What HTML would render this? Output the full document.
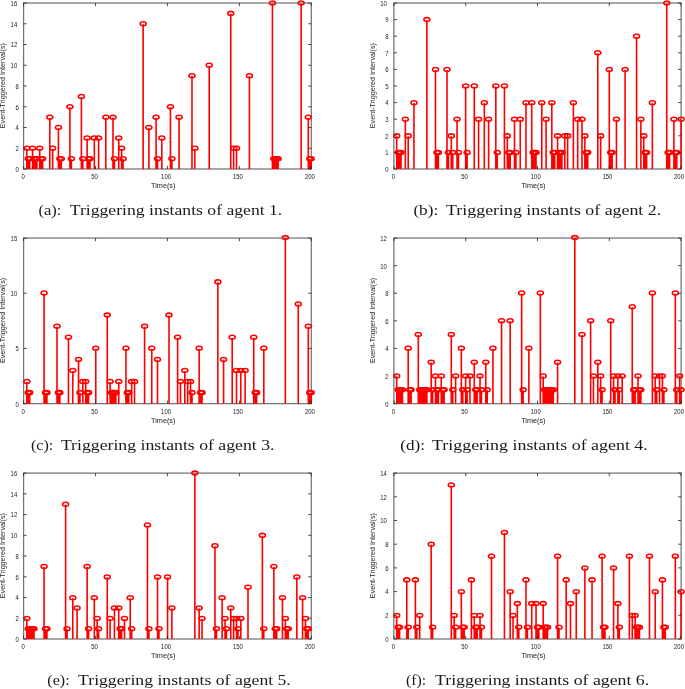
<!DOCTYPE html>
<html><head><meta charset="utf-8"><title>Triggering instants</title><style>html,body{margin:0;padding:0;background:#fff}svg{display:block}</style></head><body>
<svg width="685" height="689" viewBox="0 0 685 689">
<rect width="685" height="689" fill="#fff"/>
<g><rect x="23.60" y="3.00" width="287.70" height="166.00" fill="none" stroke="#747474" stroke-width="1.25"/><path d="M26.82 169.00V148.79M28.26 169.00V159.17M29.69 169.00V159.17M32.57 169.00V148.79M34.00 169.00V159.17M35.44 169.00V159.17M36.88 169.00V159.17M39.75 169.00V148.79M41.18 169.00V159.17M42.62 169.00V159.17M49.80 169.00V117.64M52.67 169.00V148.79M58.42 169.00V128.02M59.86 169.00V159.17M61.29 169.00V159.17M69.91 169.00V107.26M71.34 169.00V159.17M81.40 169.00V96.88M82.83 169.00V159.17M87.14 169.00V138.41M88.58 169.00V159.17M90.02 169.00V159.17M94.32 169.00V138.41M98.63 169.00V138.41M105.81 169.00V117.64M112.99 169.00V117.64M114.43 169.00V159.17M118.74 169.00V138.41M121.61 169.00V148.79M123.05 169.00V159.17M143.15 169.00V24.21M148.90 169.00V128.02M156.08 169.00V117.64M157.52 169.00V159.17M161.83 169.00V138.41M170.44 169.00V107.26M171.88 169.00V159.17M179.06 169.00V117.64M191.99 169.00V76.12M194.86 169.00V148.79M209.22 169.00V65.74M230.76 169.00V13.83M233.64 169.00V148.79M236.51 169.00V148.79M249.43 169.00V76.12M272.41 169.00V3.45M273.85 169.00V159.17M275.28 169.00V159.17M276.72 169.00V159.17M278.16 169.00V159.17M301.14 169.00V3.45M308.32 169.00V117.64M309.75 169.00V159.17M311.19 169.00V159.17" stroke="#f00" stroke-width="1.6" fill="none"/><g stroke="#f00" stroke-width="1.55" fill="none"><ellipse cx="26.82" cy="148.34" rx="3.0" ry="2.0"/><ellipse cx="28.26" cy="158.72" rx="3.0" ry="2.0"/><ellipse cx="29.69" cy="158.72" rx="3.0" ry="2.0"/><ellipse cx="32.57" cy="148.34" rx="3.0" ry="2.0"/><ellipse cx="34.00" cy="158.72" rx="3.0" ry="2.0"/><ellipse cx="35.44" cy="158.72" rx="3.0" ry="2.0"/><ellipse cx="36.88" cy="158.72" rx="3.0" ry="2.0"/><ellipse cx="39.75" cy="148.34" rx="3.0" ry="2.0"/><ellipse cx="41.18" cy="158.72" rx="3.0" ry="2.0"/><ellipse cx="42.62" cy="158.72" rx="3.0" ry="2.0"/><ellipse cx="49.80" cy="117.19" rx="3.0" ry="2.0"/><ellipse cx="52.67" cy="148.34" rx="3.0" ry="2.0"/><ellipse cx="58.42" cy="127.57" rx="3.0" ry="2.0"/><ellipse cx="59.86" cy="158.72" rx="3.0" ry="2.0"/><ellipse cx="61.29" cy="158.72" rx="3.0" ry="2.0"/><ellipse cx="69.91" cy="106.81" rx="3.0" ry="2.0"/><ellipse cx="71.34" cy="158.72" rx="3.0" ry="2.0"/><ellipse cx="81.40" cy="96.43" rx="3.0" ry="2.0"/><ellipse cx="82.83" cy="158.72" rx="3.0" ry="2.0"/><ellipse cx="87.14" cy="137.96" rx="3.0" ry="2.0"/><ellipse cx="88.58" cy="158.72" rx="3.0" ry="2.0"/><ellipse cx="90.02" cy="158.72" rx="3.0" ry="2.0"/><ellipse cx="94.32" cy="137.96" rx="3.0" ry="2.0"/><ellipse cx="98.63" cy="137.96" rx="3.0" ry="2.0"/><ellipse cx="105.81" cy="117.19" rx="3.0" ry="2.0"/><ellipse cx="112.99" cy="117.19" rx="3.0" ry="2.0"/><ellipse cx="114.43" cy="158.72" rx="3.0" ry="2.0"/><ellipse cx="118.74" cy="137.96" rx="3.0" ry="2.0"/><ellipse cx="121.61" cy="148.34" rx="3.0" ry="2.0"/><ellipse cx="123.05" cy="158.72" rx="3.0" ry="2.0"/><ellipse cx="143.15" cy="23.76" rx="3.0" ry="2.0"/><ellipse cx="148.90" cy="127.57" rx="3.0" ry="2.0"/><ellipse cx="156.08" cy="117.19" rx="3.0" ry="2.0"/><ellipse cx="157.52" cy="158.72" rx="3.0" ry="2.0"/><ellipse cx="161.83" cy="137.96" rx="3.0" ry="2.0"/><ellipse cx="170.44" cy="106.81" rx="3.0" ry="2.0"/><ellipse cx="171.88" cy="158.72" rx="3.0" ry="2.0"/><ellipse cx="179.06" cy="117.19" rx="3.0" ry="2.0"/><ellipse cx="191.99" cy="75.67" rx="3.0" ry="2.0"/><ellipse cx="194.86" cy="148.34" rx="3.0" ry="2.0"/><ellipse cx="209.22" cy="65.29" rx="3.0" ry="2.0"/><ellipse cx="230.76" cy="13.38" rx="3.0" ry="2.0"/><ellipse cx="233.64" cy="148.34" rx="3.0" ry="2.0"/><ellipse cx="236.51" cy="148.34" rx="3.0" ry="2.0"/><ellipse cx="249.43" cy="75.67" rx="3.0" ry="2.0"/><ellipse cx="272.41" cy="3.00" rx="3.0" ry="2.0"/><ellipse cx="273.85" cy="158.72" rx="3.0" ry="2.0"/><ellipse cx="275.28" cy="158.72" rx="3.0" ry="2.0"/><ellipse cx="276.72" cy="158.72" rx="3.0" ry="2.0"/><ellipse cx="278.16" cy="158.72" rx="3.0" ry="2.0"/><ellipse cx="301.14" cy="3.00" rx="3.0" ry="2.0"/><ellipse cx="308.32" cy="117.19" rx="3.0" ry="2.0"/><ellipse cx="309.75" cy="158.72" rx="3.0" ry="2.0"/><ellipse cx="311.19" cy="158.72" rx="3.0" ry="2.0"/></g><path d="M23.60 169.00v-3.1M23.60 3.00v3.1M95.53 169.00v-3.1M95.53 3.00v3.1M167.45 169.00v-3.1M167.45 3.00v3.1M239.38 169.00v-3.1M239.38 3.00v3.1M311.30 169.00v-3.1M311.30 3.00v3.1M23.60 169.00h3.1M311.30 169.00h-3.1M23.60 148.25h3.1M311.30 148.25h-3.1M23.60 127.50h3.1M311.30 127.50h-3.1M23.60 106.75h3.1M311.30 106.75h-3.1M23.60 86.00h3.1M311.30 86.00h-3.1M23.60 65.25h3.1M311.30 65.25h-3.1M23.60 44.50h3.1M311.30 44.50h-3.1M23.60 23.75h3.1M311.30 23.75h-3.1M23.60 3.00h3.1M311.30 3.00h-3.1" stroke="#222" stroke-width="0.8" fill="none"/><g font-family="Liberation Sans, Arial, sans-serif" font-size="6.6" fill="#1a1a1a"><text transform="translate(23.13 178.90) scale(0.9 1)" text-anchor="middle">0</text><text transform="translate(94.59 178.90) scale(0.9 1)" text-anchor="middle">50</text><text transform="translate(166.04 178.90) scale(0.9 1)" text-anchor="middle">100</text><text transform="translate(237.97 178.90) scale(0.9 1)" text-anchor="middle">150</text><text transform="translate(309.89 178.90) scale(0.9 1)" text-anchor="middle">200</text><text transform="translate(18.90 171.85) scale(0.9 1)" text-anchor="end">0</text><text transform="translate(18.90 151.10) scale(0.9 1)" text-anchor="end">2</text><text transform="translate(18.90 130.35) scale(0.9 1)" text-anchor="end">4</text><text transform="translate(18.90 109.60) scale(0.9 1)" text-anchor="end">6</text><text transform="translate(18.90 88.85) scale(0.9 1)" text-anchor="end">8</text><text transform="translate(17.20 68.10) scale(0.9 1)" text-anchor="end">10</text><text transform="translate(17.20 47.35) scale(0.9 1)" text-anchor="end">12</text><text transform="translate(17.20 26.60) scale(0.9 1)" text-anchor="end">14</text><text transform="translate(17.20 5.85) scale(0.9 1)" text-anchor="end">16</text><text x="163.25" y="188.20" text-anchor="middle" font-size="7.25">Time(s)</text><text transform="translate(5.40 85.60) rotate(-90)" text-anchor="middle" font-size="7.2">Event-Triggered Interval(s)</text></g><g font-family="Liberation Serif, Times New Roman, serif" font-size="15.5" fill="#1a1a1a"><text x="38.50" y="214.70" textLength="22.9" lengthAdjust="spacingAndGlyphs">(a):</text><text x="69.80" y="214.70" textLength="212.5" lengthAdjust="spacingAndGlyphs">Triggering instants of agent 1.</text></g></g>
<g><rect x="393.90" y="3.00" width="287.20" height="166.00" fill="none" stroke="#747474" stroke-width="1.25"/><path d="M396.72 169.00V136.33M398.16 169.00V152.94M399.59 169.00V152.94M401.03 169.00V152.94M405.34 169.00V119.72M408.21 169.00V136.33M413.96 169.00V103.11M426.88 169.00V20.06M435.50 169.00V69.89M436.94 169.00V152.94M438.37 169.00V152.94M446.99 169.00V69.89M448.43 169.00V152.94M451.30 169.00V136.33M452.73 169.00V152.94M457.04 169.00V119.72M458.48 169.00V152.94M465.66 169.00V86.50M467.10 169.00V152.94M474.28 169.00V86.50M478.59 169.00V119.72M484.33 169.00V103.11M488.64 169.00V119.72M495.82 169.00V86.50M497.26 169.00V152.94M504.44 169.00V86.50M507.31 169.00V136.33M508.75 169.00V152.94M510.18 169.00V152.94M514.49 169.00V119.72M515.93 169.00V152.94M520.24 169.00V119.72M525.98 169.00V103.11M531.73 169.00V103.11M533.16 169.00V152.94M534.60 169.00V152.94M536.03 169.00V152.94M541.78 169.00V103.11M546.09 169.00V119.72M551.83 169.00V103.11M553.27 169.00V152.94M554.70 169.00V152.94M557.58 169.00V136.33M559.01 169.00V152.94M560.45 169.00V152.94M561.89 169.00V152.94M564.76 169.00V136.33M567.63 169.00V136.33M573.38 169.00V103.11M577.68 169.00V119.72M581.99 169.00V119.72M584.86 169.00V136.33M586.30 169.00V152.94M587.74 169.00V152.94M597.79 169.00V53.28M600.66 169.00V136.33M609.28 169.00V69.89M610.72 169.00V152.94M612.15 169.00V152.94M616.46 169.00V119.72M625.08 169.00V69.89M636.57 169.00V36.67M640.88 169.00V119.72M643.75 169.00V136.33M645.18 169.00V152.94M646.62 169.00V152.94M652.37 169.00V103.11M666.73 169.00V3.45M668.16 169.00V152.94M669.60 169.00V152.94M673.91 169.00V119.72M675.35 169.00V152.94M676.78 169.00V152.94M681.09 169.00V119.72" stroke="#f00" stroke-width="1.6" fill="none"/><g stroke="#f00" stroke-width="1.55" fill="none"><ellipse cx="396.72" cy="135.88" rx="3.0" ry="2.0"/><ellipse cx="398.16" cy="152.49" rx="3.0" ry="2.0"/><ellipse cx="399.59" cy="152.49" rx="3.0" ry="2.0"/><ellipse cx="401.03" cy="152.49" rx="3.0" ry="2.0"/><ellipse cx="405.34" cy="119.27" rx="3.0" ry="2.0"/><ellipse cx="408.21" cy="135.88" rx="3.0" ry="2.0"/><ellipse cx="413.96" cy="102.66" rx="3.0" ry="2.0"/><ellipse cx="426.88" cy="19.61" rx="3.0" ry="2.0"/><ellipse cx="435.50" cy="69.44" rx="3.0" ry="2.0"/><ellipse cx="436.94" cy="152.49" rx="3.0" ry="2.0"/><ellipse cx="438.37" cy="152.49" rx="3.0" ry="2.0"/><ellipse cx="446.99" cy="69.44" rx="3.0" ry="2.0"/><ellipse cx="448.43" cy="152.49" rx="3.0" ry="2.0"/><ellipse cx="451.30" cy="135.88" rx="3.0" ry="2.0"/><ellipse cx="452.73" cy="152.49" rx="3.0" ry="2.0"/><ellipse cx="457.04" cy="119.27" rx="3.0" ry="2.0"/><ellipse cx="458.48" cy="152.49" rx="3.0" ry="2.0"/><ellipse cx="465.66" cy="86.05" rx="3.0" ry="2.0"/><ellipse cx="467.10" cy="152.49" rx="3.0" ry="2.0"/><ellipse cx="474.28" cy="86.05" rx="3.0" ry="2.0"/><ellipse cx="478.59" cy="119.27" rx="3.0" ry="2.0"/><ellipse cx="484.33" cy="102.66" rx="3.0" ry="2.0"/><ellipse cx="488.64" cy="119.27" rx="3.0" ry="2.0"/><ellipse cx="495.82" cy="86.05" rx="3.0" ry="2.0"/><ellipse cx="497.26" cy="152.49" rx="3.0" ry="2.0"/><ellipse cx="504.44" cy="86.05" rx="3.0" ry="2.0"/><ellipse cx="507.31" cy="135.88" rx="3.0" ry="2.0"/><ellipse cx="508.75" cy="152.49" rx="3.0" ry="2.0"/><ellipse cx="510.18" cy="152.49" rx="3.0" ry="2.0"/><ellipse cx="514.49" cy="119.27" rx="3.0" ry="2.0"/><ellipse cx="515.93" cy="152.49" rx="3.0" ry="2.0"/><ellipse cx="520.24" cy="119.27" rx="3.0" ry="2.0"/><ellipse cx="525.98" cy="102.66" rx="3.0" ry="2.0"/><ellipse cx="531.73" cy="102.66" rx="3.0" ry="2.0"/><ellipse cx="533.16" cy="152.49" rx="3.0" ry="2.0"/><ellipse cx="534.60" cy="152.49" rx="3.0" ry="2.0"/><ellipse cx="536.03" cy="152.49" rx="3.0" ry="2.0"/><ellipse cx="541.78" cy="102.66" rx="3.0" ry="2.0"/><ellipse cx="546.09" cy="119.27" rx="3.0" ry="2.0"/><ellipse cx="551.83" cy="102.66" rx="3.0" ry="2.0"/><ellipse cx="553.27" cy="152.49" rx="3.0" ry="2.0"/><ellipse cx="554.70" cy="152.49" rx="3.0" ry="2.0"/><ellipse cx="557.58" cy="135.88" rx="3.0" ry="2.0"/><ellipse cx="559.01" cy="152.49" rx="3.0" ry="2.0"/><ellipse cx="560.45" cy="152.49" rx="3.0" ry="2.0"/><ellipse cx="561.89" cy="152.49" rx="3.0" ry="2.0"/><ellipse cx="564.76" cy="135.88" rx="3.0" ry="2.0"/><ellipse cx="567.63" cy="135.88" rx="3.0" ry="2.0"/><ellipse cx="573.38" cy="102.66" rx="3.0" ry="2.0"/><ellipse cx="577.68" cy="119.27" rx="3.0" ry="2.0"/><ellipse cx="581.99" cy="119.27" rx="3.0" ry="2.0"/><ellipse cx="584.86" cy="135.88" rx="3.0" ry="2.0"/><ellipse cx="586.30" cy="152.49" rx="3.0" ry="2.0"/><ellipse cx="587.74" cy="152.49" rx="3.0" ry="2.0"/><ellipse cx="597.79" cy="52.83" rx="3.0" ry="2.0"/><ellipse cx="600.66" cy="135.88" rx="3.0" ry="2.0"/><ellipse cx="609.28" cy="69.44" rx="3.0" ry="2.0"/><ellipse cx="610.72" cy="152.49" rx="3.0" ry="2.0"/><ellipse cx="612.15" cy="152.49" rx="3.0" ry="2.0"/><ellipse cx="616.46" cy="119.27" rx="3.0" ry="2.0"/><ellipse cx="625.08" cy="69.44" rx="3.0" ry="2.0"/><ellipse cx="636.57" cy="36.22" rx="3.0" ry="2.0"/><ellipse cx="640.88" cy="119.27" rx="3.0" ry="2.0"/><ellipse cx="643.75" cy="135.88" rx="3.0" ry="2.0"/><ellipse cx="645.18" cy="152.49" rx="3.0" ry="2.0"/><ellipse cx="646.62" cy="152.49" rx="3.0" ry="2.0"/><ellipse cx="652.37" cy="102.66" rx="3.0" ry="2.0"/><ellipse cx="666.73" cy="3.00" rx="3.0" ry="2.0"/><ellipse cx="668.16" cy="152.49" rx="3.0" ry="2.0"/><ellipse cx="669.60" cy="152.49" rx="3.0" ry="2.0"/><ellipse cx="673.91" cy="119.27" rx="3.0" ry="2.0"/><ellipse cx="675.35" cy="152.49" rx="3.0" ry="2.0"/><ellipse cx="676.78" cy="152.49" rx="3.0" ry="2.0"/><ellipse cx="681.09" cy="119.27" rx="3.0" ry="2.0"/></g><path d="M393.90 169.00v-3.1M393.90 3.00v3.1M465.70 169.00v-3.1M465.70 3.00v3.1M537.50 169.00v-3.1M537.50 3.00v3.1M609.30 169.00v-3.1M609.30 3.00v3.1M681.10 169.00v-3.1M681.10 3.00v3.1M393.90 169.00h3.1M681.10 169.00h-3.1M393.90 152.40h3.1M681.10 152.40h-3.1M393.90 135.80h3.1M681.10 135.80h-3.1M393.90 119.20h3.1M681.10 119.20h-3.1M393.90 102.60h3.1M681.10 102.60h-3.1M393.90 86.00h3.1M681.10 86.00h-3.1M393.90 69.40h3.1M681.10 69.40h-3.1M393.90 52.80h3.1M681.10 52.80h-3.1M393.90 36.20h3.1M681.10 36.20h-3.1M393.90 19.60h3.1M681.10 19.60h-3.1M393.90 3.00h3.1M681.10 3.00h-3.1" stroke="#222" stroke-width="0.8" fill="none"/><g font-family="Liberation Sans, Arial, sans-serif" font-size="6.6" fill="#1a1a1a"><text transform="translate(393.43 178.90) scale(0.9 1)" text-anchor="middle">0</text><text transform="translate(464.59 178.90) scale(0.9 1)" text-anchor="middle">50</text><text transform="translate(535.74 178.90) scale(0.9 1)" text-anchor="middle">100</text><text transform="translate(607.37 178.90) scale(0.9 1)" text-anchor="middle">150</text><text transform="translate(678.99 178.90) scale(0.9 1)" text-anchor="middle">200</text><text transform="translate(388.60 171.85) scale(0.9 1)" text-anchor="end">0</text><text transform="translate(388.60 155.25) scale(0.9 1)" text-anchor="end">1</text><text transform="translate(388.60 138.65) scale(0.9 1)" text-anchor="end">2</text><text transform="translate(388.60 122.05) scale(0.9 1)" text-anchor="end">3</text><text transform="translate(388.60 105.45) scale(0.9 1)" text-anchor="end">4</text><text transform="translate(388.60 88.85) scale(0.9 1)" text-anchor="end">5</text><text transform="translate(388.60 72.25) scale(0.9 1)" text-anchor="end">6</text><text transform="translate(388.60 55.65) scale(0.9 1)" text-anchor="end">7</text><text transform="translate(388.60 39.05) scale(0.9 1)" text-anchor="end">8</text><text transform="translate(388.60 22.45) scale(0.9 1)" text-anchor="end">9</text><text transform="translate(386.90 5.85) scale(0.9 1)" text-anchor="end">10</text><text x="533.30" y="188.20" text-anchor="middle" font-size="7.25">Time(s)</text><text transform="translate(375.10 85.60) rotate(-90)" text-anchor="middle" font-size="7.2">Event-Triggered Interval(s)</text></g><g font-family="Liberation Serif, Times New Roman, serif" font-size="15.5" fill="#1a1a1a"><text x="413.40" y="214.70" textLength="24.8" lengthAdjust="spacingAndGlyphs">(b):</text><text x="446.10" y="214.70" textLength="215.1" lengthAdjust="spacingAndGlyphs">Triggering instants of agent 2.</text></g></g>
<g><rect x="23.60" y="238.05" width="287.70" height="165.60" fill="none" stroke="#747474" stroke-width="1.25"/><path d="M26.82 403.65V382.00M28.26 403.65V393.08M29.69 403.65V393.08M44.06 403.65V293.42M45.49 403.65V393.08M46.93 403.65V393.08M56.98 403.65V326.64M58.42 403.65V393.08M59.86 403.65V393.08M68.47 403.65V337.71M72.78 403.65V370.93M78.53 403.65V359.86M79.96 403.65V393.08M82.83 403.65V382.00M85.71 403.65V382.00M87.14 403.65V393.08M88.58 403.65V393.08M95.76 403.65V348.78M107.25 403.65V315.56M110.12 403.65V382.00M111.56 403.65V393.08M112.99 403.65V393.08M114.43 403.65V393.08M115.87 403.65V393.08M118.74 403.65V382.00M125.92 403.65V348.78M127.36 403.65V393.08M128.79 403.65V393.08M131.66 403.65V382.00M134.54 403.65V382.00M144.59 403.65V326.64M151.77 403.65V348.78M157.52 403.65V359.86M169.01 403.65V315.56M177.62 403.65V337.71M180.50 403.65V382.00M184.80 403.65V370.93M187.68 403.65V382.00M190.55 403.65V382.00M191.99 403.65V393.08M199.17 403.65V348.78M200.60 403.65V393.08M202.04 403.65V393.08M217.84 403.65V282.34M223.58 403.65V359.86M232.20 403.65V337.71M236.51 403.65V370.93M240.82 403.65V370.93M245.12 403.65V370.93M253.74 403.65V337.71M255.18 403.65V393.08M256.61 403.65V393.08M263.80 403.65V348.78M285.34 403.65V238.05M298.26 403.65V304.49M308.32 403.65V326.64M309.75 403.65V393.08M311.19 403.65V393.08" stroke="#f00" stroke-width="1.6" fill="none"/><g stroke="#f00" stroke-width="1.55" fill="none"><ellipse cx="26.82" cy="381.55" rx="3.0" ry="2.0"/><ellipse cx="28.26" cy="392.63" rx="3.0" ry="2.0"/><ellipse cx="29.69" cy="392.63" rx="3.0" ry="2.0"/><ellipse cx="44.06" cy="292.97" rx="3.0" ry="2.0"/><ellipse cx="45.49" cy="392.63" rx="3.0" ry="2.0"/><ellipse cx="46.93" cy="392.63" rx="3.0" ry="2.0"/><ellipse cx="56.98" cy="326.19" rx="3.0" ry="2.0"/><ellipse cx="58.42" cy="392.63" rx="3.0" ry="2.0"/><ellipse cx="59.86" cy="392.63" rx="3.0" ry="2.0"/><ellipse cx="68.47" cy="337.26" rx="3.0" ry="2.0"/><ellipse cx="72.78" cy="370.48" rx="3.0" ry="2.0"/><ellipse cx="78.53" cy="359.41" rx="3.0" ry="2.0"/><ellipse cx="79.96" cy="392.63" rx="3.0" ry="2.0"/><ellipse cx="82.83" cy="381.55" rx="3.0" ry="2.0"/><ellipse cx="85.71" cy="381.55" rx="3.0" ry="2.0"/><ellipse cx="87.14" cy="392.63" rx="3.0" ry="2.0"/><ellipse cx="88.58" cy="392.63" rx="3.0" ry="2.0"/><ellipse cx="95.76" cy="348.33" rx="3.0" ry="2.0"/><ellipse cx="107.25" cy="315.11" rx="3.0" ry="2.0"/><ellipse cx="110.12" cy="381.55" rx="3.0" ry="2.0"/><ellipse cx="111.56" cy="392.63" rx="3.0" ry="2.0"/><ellipse cx="112.99" cy="392.63" rx="3.0" ry="2.0"/><ellipse cx="114.43" cy="392.63" rx="3.0" ry="2.0"/><ellipse cx="115.87" cy="392.63" rx="3.0" ry="2.0"/><ellipse cx="118.74" cy="381.55" rx="3.0" ry="2.0"/><ellipse cx="125.92" cy="348.33" rx="3.0" ry="2.0"/><ellipse cx="127.36" cy="392.63" rx="3.0" ry="2.0"/><ellipse cx="128.79" cy="392.63" rx="3.0" ry="2.0"/><ellipse cx="131.66" cy="381.55" rx="3.0" ry="2.0"/><ellipse cx="134.54" cy="381.55" rx="3.0" ry="2.0"/><ellipse cx="144.59" cy="326.19" rx="3.0" ry="2.0"/><ellipse cx="151.77" cy="348.33" rx="3.0" ry="2.0"/><ellipse cx="157.52" cy="359.41" rx="3.0" ry="2.0"/><ellipse cx="169.01" cy="315.11" rx="3.0" ry="2.0"/><ellipse cx="177.62" cy="337.26" rx="3.0" ry="2.0"/><ellipse cx="180.50" cy="381.55" rx="3.0" ry="2.0"/><ellipse cx="184.80" cy="370.48" rx="3.0" ry="2.0"/><ellipse cx="187.68" cy="381.55" rx="3.0" ry="2.0"/><ellipse cx="190.55" cy="381.55" rx="3.0" ry="2.0"/><ellipse cx="191.99" cy="392.63" rx="3.0" ry="2.0"/><ellipse cx="199.17" cy="348.33" rx="3.0" ry="2.0"/><ellipse cx="200.60" cy="392.63" rx="3.0" ry="2.0"/><ellipse cx="202.04" cy="392.63" rx="3.0" ry="2.0"/><ellipse cx="217.84" cy="281.89" rx="3.0" ry="2.0"/><ellipse cx="223.58" cy="359.41" rx="3.0" ry="2.0"/><ellipse cx="232.20" cy="337.26" rx="3.0" ry="2.0"/><ellipse cx="236.51" cy="370.48" rx="3.0" ry="2.0"/><ellipse cx="240.82" cy="370.48" rx="3.0" ry="2.0"/><ellipse cx="245.12" cy="370.48" rx="3.0" ry="2.0"/><ellipse cx="253.74" cy="337.26" rx="3.0" ry="2.0"/><ellipse cx="255.18" cy="392.63" rx="3.0" ry="2.0"/><ellipse cx="256.61" cy="392.63" rx="3.0" ry="2.0"/><ellipse cx="263.80" cy="348.33" rx="3.0" ry="2.0"/><ellipse cx="285.34" cy="237.60" rx="3.0" ry="2.0"/><ellipse cx="298.26" cy="304.04" rx="3.0" ry="2.0"/><ellipse cx="308.32" cy="326.19" rx="3.0" ry="2.0"/><ellipse cx="309.75" cy="392.63" rx="3.0" ry="2.0"/><ellipse cx="311.19" cy="392.63" rx="3.0" ry="2.0"/></g><path d="M23.60 403.65v-3.1M23.60 238.05v3.1M95.53 403.65v-3.1M95.53 238.05v3.1M167.45 403.65v-3.1M167.45 238.05v3.1M239.38 403.65v-3.1M239.38 238.05v3.1M311.30 403.65v-3.1M311.30 238.05v3.1M23.60 403.65h3.1M311.30 403.65h-3.1M23.60 348.45h3.1M311.30 348.45h-3.1M23.60 293.25h3.1M311.30 293.25h-3.1M23.60 238.05h3.1M311.30 238.05h-3.1" stroke="#222" stroke-width="0.8" fill="none"/><g font-family="Liberation Sans, Arial, sans-serif" font-size="6.6" fill="#1a1a1a"><text transform="translate(23.13 413.55) scale(0.9 1)" text-anchor="middle">0</text><text transform="translate(94.59 413.55) scale(0.9 1)" text-anchor="middle">50</text><text transform="translate(166.04 413.55) scale(0.9 1)" text-anchor="middle">100</text><text transform="translate(237.97 413.55) scale(0.9 1)" text-anchor="middle">150</text><text transform="translate(309.89 413.55) scale(0.9 1)" text-anchor="middle">200</text><text transform="translate(18.90 406.50) scale(0.9 1)" text-anchor="end">0</text><text transform="translate(18.90 351.30) scale(0.9 1)" text-anchor="end">5</text><text transform="translate(17.20 296.10) scale(0.9 1)" text-anchor="end">10</text><text transform="translate(17.20 240.90) scale(0.9 1)" text-anchor="end">15</text><text x="163.25" y="422.85" text-anchor="middle" font-size="7.25">Time(s)</text><text transform="translate(5.40 320.45) rotate(-90)" text-anchor="middle" font-size="7.2">Event-Triggered Interval(s)</text></g><g font-family="Liberation Serif, Times New Roman, serif" font-size="15.5" fill="#1a1a1a"><text x="31.00" y="449.75" textLength="22.3" lengthAdjust="spacingAndGlyphs">(c):</text><text x="60.90" y="449.75" textLength="213.6" lengthAdjust="spacingAndGlyphs">Triggering instants of agent 3.</text></g></g>
<g><rect x="393.90" y="238.05" width="287.20" height="165.60" fill="none" stroke="#747474" stroke-width="1.25"/><path d="M396.72 403.65V376.47M398.16 403.65V390.31M399.59 403.65V390.31M401.03 403.65V390.31M402.47 403.65V390.31M408.21 403.65V348.78M409.65 403.65V390.31M411.08 403.65V390.31M418.27 403.65V334.94M419.70 403.65V390.31M421.14 403.65V390.31M422.57 403.65V390.31M424.01 403.65V390.31M425.45 403.65V390.31M426.88 403.65V390.31M431.19 403.65V362.62M432.63 403.65V390.31M435.50 403.65V376.47M436.94 403.65V390.31M438.37 403.65V390.31M441.24 403.65V376.47M442.68 403.65V390.31M444.12 403.65V390.31M451.30 403.65V334.94M452.73 403.65V390.31M455.61 403.65V376.47M461.35 403.65V348.78M462.79 403.65V390.31M465.66 403.65V376.47M467.10 403.65V390.31M469.97 403.65V376.47M474.28 403.65V362.62M475.71 403.65V390.31M477.15 403.65V390.31M480.02 403.65V376.47M481.46 403.65V390.31M485.77 403.65V362.62M487.20 403.65V390.31M492.95 403.65V348.78M501.56 403.65V321.10M510.18 403.65V321.10M521.67 403.65V293.42M523.11 403.65V390.31M528.85 403.65V348.78M540.34 403.65V293.42M543.21 403.65V376.47M544.65 403.65V390.31M546.09 403.65V390.31M547.52 403.65V390.31M548.96 403.65V390.31M550.40 403.65V390.31M551.83 403.65V390.31M553.27 403.65V390.31M557.58 403.65V362.62M574.81 403.65V238.05M581.99 403.65V334.94M590.61 403.65V321.10M593.48 403.65V376.47M597.79 403.65V362.62M600.66 403.65V376.47M602.10 403.65V390.31M610.72 403.65V321.10M613.59 403.65V376.47M615.02 403.65V390.31M617.90 403.65V376.47M619.33 403.65V390.31M622.21 403.65V376.47M632.26 403.65V307.26M633.70 403.65V390.31M635.13 403.65V390.31M638.00 403.65V376.47M639.44 403.65V390.31M640.88 403.65V390.31M652.37 403.65V293.42M655.24 403.65V376.47M656.67 403.65V390.31M659.55 403.65V376.47M662.42 403.65V376.47M663.86 403.65V390.31M675.35 403.65V293.42M676.78 403.65V390.31M679.65 403.65V376.47M681.09 403.65V390.31" stroke="#f00" stroke-width="1.6" fill="none"/><g stroke="#f00" stroke-width="1.55" fill="none"><ellipse cx="396.72" cy="376.02" rx="3.0" ry="2.0"/><ellipse cx="398.16" cy="389.86" rx="3.0" ry="2.0"/><ellipse cx="399.59" cy="389.86" rx="3.0" ry="2.0"/><ellipse cx="401.03" cy="389.86" rx="3.0" ry="2.0"/><ellipse cx="402.47" cy="389.86" rx="3.0" ry="2.0"/><ellipse cx="408.21" cy="348.33" rx="3.0" ry="2.0"/><ellipse cx="409.65" cy="389.86" rx="3.0" ry="2.0"/><ellipse cx="411.08" cy="389.86" rx="3.0" ry="2.0"/><ellipse cx="418.27" cy="334.49" rx="3.0" ry="2.0"/><ellipse cx="419.70" cy="389.86" rx="3.0" ry="2.0"/><ellipse cx="421.14" cy="389.86" rx="3.0" ry="2.0"/><ellipse cx="422.57" cy="389.86" rx="3.0" ry="2.0"/><ellipse cx="424.01" cy="389.86" rx="3.0" ry="2.0"/><ellipse cx="425.45" cy="389.86" rx="3.0" ry="2.0"/><ellipse cx="426.88" cy="389.86" rx="3.0" ry="2.0"/><ellipse cx="431.19" cy="362.18" rx="3.0" ry="2.0"/><ellipse cx="432.63" cy="389.86" rx="3.0" ry="2.0"/><ellipse cx="435.50" cy="376.02" rx="3.0" ry="2.0"/><ellipse cx="436.94" cy="389.86" rx="3.0" ry="2.0"/><ellipse cx="438.37" cy="389.86" rx="3.0" ry="2.0"/><ellipse cx="441.24" cy="376.02" rx="3.0" ry="2.0"/><ellipse cx="442.68" cy="389.86" rx="3.0" ry="2.0"/><ellipse cx="444.12" cy="389.86" rx="3.0" ry="2.0"/><ellipse cx="451.30" cy="334.49" rx="3.0" ry="2.0"/><ellipse cx="452.73" cy="389.86" rx="3.0" ry="2.0"/><ellipse cx="455.61" cy="376.02" rx="3.0" ry="2.0"/><ellipse cx="461.35" cy="348.33" rx="3.0" ry="2.0"/><ellipse cx="462.79" cy="389.86" rx="3.0" ry="2.0"/><ellipse cx="465.66" cy="376.02" rx="3.0" ry="2.0"/><ellipse cx="467.10" cy="389.86" rx="3.0" ry="2.0"/><ellipse cx="469.97" cy="376.02" rx="3.0" ry="2.0"/><ellipse cx="474.28" cy="362.18" rx="3.0" ry="2.0"/><ellipse cx="475.71" cy="389.86" rx="3.0" ry="2.0"/><ellipse cx="477.15" cy="389.86" rx="3.0" ry="2.0"/><ellipse cx="480.02" cy="376.02" rx="3.0" ry="2.0"/><ellipse cx="481.46" cy="389.86" rx="3.0" ry="2.0"/><ellipse cx="485.77" cy="362.18" rx="3.0" ry="2.0"/><ellipse cx="487.20" cy="389.86" rx="3.0" ry="2.0"/><ellipse cx="492.95" cy="348.33" rx="3.0" ry="2.0"/><ellipse cx="501.56" cy="320.65" rx="3.0" ry="2.0"/><ellipse cx="510.18" cy="320.65" rx="3.0" ry="2.0"/><ellipse cx="521.67" cy="292.97" rx="3.0" ry="2.0"/><ellipse cx="523.11" cy="389.86" rx="3.0" ry="2.0"/><ellipse cx="528.85" cy="348.33" rx="3.0" ry="2.0"/><ellipse cx="540.34" cy="292.97" rx="3.0" ry="2.0"/><ellipse cx="543.21" cy="376.02" rx="3.0" ry="2.0"/><ellipse cx="544.65" cy="389.86" rx="3.0" ry="2.0"/><ellipse cx="546.09" cy="389.86" rx="3.0" ry="2.0"/><ellipse cx="547.52" cy="389.86" rx="3.0" ry="2.0"/><ellipse cx="548.96" cy="389.86" rx="3.0" ry="2.0"/><ellipse cx="550.40" cy="389.86" rx="3.0" ry="2.0"/><ellipse cx="551.83" cy="389.86" rx="3.0" ry="2.0"/><ellipse cx="553.27" cy="389.86" rx="3.0" ry="2.0"/><ellipse cx="557.58" cy="362.18" rx="3.0" ry="2.0"/><ellipse cx="574.81" cy="237.60" rx="3.0" ry="2.0"/><ellipse cx="581.99" cy="334.49" rx="3.0" ry="2.0"/><ellipse cx="590.61" cy="320.65" rx="3.0" ry="2.0"/><ellipse cx="593.48" cy="376.02" rx="3.0" ry="2.0"/><ellipse cx="597.79" cy="362.18" rx="3.0" ry="2.0"/><ellipse cx="600.66" cy="376.02" rx="3.0" ry="2.0"/><ellipse cx="602.10" cy="389.86" rx="3.0" ry="2.0"/><ellipse cx="610.72" cy="320.65" rx="3.0" ry="2.0"/><ellipse cx="613.59" cy="376.02" rx="3.0" ry="2.0"/><ellipse cx="615.02" cy="389.86" rx="3.0" ry="2.0"/><ellipse cx="617.90" cy="376.02" rx="3.0" ry="2.0"/><ellipse cx="619.33" cy="389.86" rx="3.0" ry="2.0"/><ellipse cx="622.21" cy="376.02" rx="3.0" ry="2.0"/><ellipse cx="632.26" cy="306.81" rx="3.0" ry="2.0"/><ellipse cx="633.70" cy="389.86" rx="3.0" ry="2.0"/><ellipse cx="635.13" cy="389.86" rx="3.0" ry="2.0"/><ellipse cx="638.00" cy="376.02" rx="3.0" ry="2.0"/><ellipse cx="639.44" cy="389.86" rx="3.0" ry="2.0"/><ellipse cx="640.88" cy="389.86" rx="3.0" ry="2.0"/><ellipse cx="652.37" cy="292.97" rx="3.0" ry="2.0"/><ellipse cx="655.24" cy="376.02" rx="3.0" ry="2.0"/><ellipse cx="656.67" cy="389.86" rx="3.0" ry="2.0"/><ellipse cx="659.55" cy="376.02" rx="3.0" ry="2.0"/><ellipse cx="662.42" cy="376.02" rx="3.0" ry="2.0"/><ellipse cx="663.86" cy="389.86" rx="3.0" ry="2.0"/><ellipse cx="675.35" cy="292.97" rx="3.0" ry="2.0"/><ellipse cx="676.78" cy="389.86" rx="3.0" ry="2.0"/><ellipse cx="679.65" cy="376.02" rx="3.0" ry="2.0"/><ellipse cx="681.09" cy="389.86" rx="3.0" ry="2.0"/></g><path d="M393.90 403.65v-3.1M393.90 238.05v3.1M465.70 403.65v-3.1M465.70 238.05v3.1M537.50 403.65v-3.1M537.50 238.05v3.1M609.30 403.65v-3.1M609.30 238.05v3.1M681.10 403.65v-3.1M681.10 238.05v3.1M393.90 403.65h3.1M681.10 403.65h-3.1M393.90 376.05h3.1M681.10 376.05h-3.1M393.90 348.45h3.1M681.10 348.45h-3.1M393.90 320.85h3.1M681.10 320.85h-3.1M393.90 293.25h3.1M681.10 293.25h-3.1M393.90 265.65h3.1M681.10 265.65h-3.1M393.90 238.05h3.1M681.10 238.05h-3.1" stroke="#222" stroke-width="0.8" fill="none"/><g font-family="Liberation Sans, Arial, sans-serif" font-size="6.6" fill="#1a1a1a"><text transform="translate(393.43 413.55) scale(0.9 1)" text-anchor="middle">0</text><text transform="translate(464.59 413.55) scale(0.9 1)" text-anchor="middle">50</text><text transform="translate(535.74 413.55) scale(0.9 1)" text-anchor="middle">100</text><text transform="translate(607.37 413.55) scale(0.9 1)" text-anchor="middle">150</text><text transform="translate(678.99 413.55) scale(0.9 1)" text-anchor="middle">200</text><text transform="translate(388.60 406.50) scale(0.9 1)" text-anchor="end">0</text><text transform="translate(388.60 378.90) scale(0.9 1)" text-anchor="end">2</text><text transform="translate(388.60 351.30) scale(0.9 1)" text-anchor="end">4</text><text transform="translate(388.60 323.70) scale(0.9 1)" text-anchor="end">6</text><text transform="translate(388.60 296.10) scale(0.9 1)" text-anchor="end">8</text><text transform="translate(386.90 268.50) scale(0.9 1)" text-anchor="end">10</text><text transform="translate(386.90 240.90) scale(0.9 1)" text-anchor="end">12</text><text x="533.30" y="422.85" text-anchor="middle" font-size="7.25">Time(s)</text><text transform="translate(375.10 320.45) rotate(-90)" text-anchor="middle" font-size="7.2">Event-Triggered Interval(s)</text></g><g font-family="Liberation Serif, Times New Roman, serif" font-size="15.5" fill="#1a1a1a"><text x="400.20" y="449.75" textLength="24.8" lengthAdjust="spacingAndGlyphs">(d):</text><text x="432.00" y="449.75" textLength="215.8" lengthAdjust="spacingAndGlyphs">Triggering instants of agent 4.</text></g></g>
<g><rect x="23.60" y="473.10" width="287.70" height="165.90" fill="none" stroke="#747474" stroke-width="1.25"/><path d="M26.82 639.00V618.89M28.26 639.00V629.27M29.69 639.00V629.27M31.13 639.00V629.27M32.57 639.00V629.27M34.00 639.00V629.27M44.06 639.00V566.98M45.49 639.00V629.27M46.93 639.00V629.27M65.60 639.00V504.69M67.04 639.00V629.27M72.78 639.00V598.13M77.09 639.00V608.51M87.14 639.00V566.98M88.58 639.00V629.27M94.32 639.00V598.13M97.20 639.00V618.89M98.63 639.00V629.27M107.25 639.00V577.36M110.12 639.00V618.89M114.43 639.00V608.51M118.74 639.00V608.51M120.18 639.00V629.27M121.61 639.00V629.27M124.48 639.00V618.89M130.23 639.00V598.13M131.66 639.00V629.27M147.46 639.00V525.46M148.90 639.00V629.27M157.52 639.00V577.36M158.95 639.00V629.27M167.57 639.00V577.36M171.88 639.00V608.51M194.86 639.00V473.55M199.17 639.00V608.51M202.04 639.00V618.89M214.96 639.00V546.22M216.40 639.00V629.27M222.15 639.00V598.13M225.02 639.00V618.89M226.45 639.00V629.27M230.76 639.00V608.51M233.64 639.00V618.89M236.51 639.00V618.89M237.94 639.00V629.27M240.82 639.00V618.89M248.00 639.00V587.74M262.36 639.00V535.84M263.80 639.00V629.27M273.85 639.00V566.98M275.28 639.00V629.27M276.72 639.00V629.27M282.47 639.00V598.13M285.34 639.00V618.89M286.77 639.00V629.27M288.21 639.00V629.27M296.83 639.00V577.36M302.57 639.00V598.13M305.45 639.00V618.89M306.88 639.00V629.27M308.32 639.00V629.27" stroke="#f00" stroke-width="1.6" fill="none"/><g stroke="#f00" stroke-width="1.55" fill="none"><ellipse cx="26.82" cy="618.44" rx="3.0" ry="2.0"/><ellipse cx="28.26" cy="628.82" rx="3.0" ry="2.0"/><ellipse cx="29.69" cy="628.82" rx="3.0" ry="2.0"/><ellipse cx="31.13" cy="628.82" rx="3.0" ry="2.0"/><ellipse cx="32.57" cy="628.82" rx="3.0" ry="2.0"/><ellipse cx="34.00" cy="628.82" rx="3.0" ry="2.0"/><ellipse cx="44.06" cy="566.53" rx="3.0" ry="2.0"/><ellipse cx="45.49" cy="628.82" rx="3.0" ry="2.0"/><ellipse cx="46.93" cy="628.82" rx="3.0" ry="2.0"/><ellipse cx="65.60" cy="504.24" rx="3.0" ry="2.0"/><ellipse cx="67.04" cy="628.82" rx="3.0" ry="2.0"/><ellipse cx="72.78" cy="597.68" rx="3.0" ry="2.0"/><ellipse cx="77.09" cy="608.06" rx="3.0" ry="2.0"/><ellipse cx="87.14" cy="566.53" rx="3.0" ry="2.0"/><ellipse cx="88.58" cy="628.82" rx="3.0" ry="2.0"/><ellipse cx="94.32" cy="597.68" rx="3.0" ry="2.0"/><ellipse cx="97.20" cy="618.44" rx="3.0" ry="2.0"/><ellipse cx="98.63" cy="628.82" rx="3.0" ry="2.0"/><ellipse cx="107.25" cy="576.91" rx="3.0" ry="2.0"/><ellipse cx="110.12" cy="618.44" rx="3.0" ry="2.0"/><ellipse cx="114.43" cy="608.06" rx="3.0" ry="2.0"/><ellipse cx="118.74" cy="608.06" rx="3.0" ry="2.0"/><ellipse cx="120.18" cy="628.82" rx="3.0" ry="2.0"/><ellipse cx="121.61" cy="628.82" rx="3.0" ry="2.0"/><ellipse cx="124.48" cy="618.44" rx="3.0" ry="2.0"/><ellipse cx="130.23" cy="597.68" rx="3.0" ry="2.0"/><ellipse cx="131.66" cy="628.82" rx="3.0" ry="2.0"/><ellipse cx="147.46" cy="525.01" rx="3.0" ry="2.0"/><ellipse cx="148.90" cy="628.82" rx="3.0" ry="2.0"/><ellipse cx="157.52" cy="576.91" rx="3.0" ry="2.0"/><ellipse cx="158.95" cy="628.82" rx="3.0" ry="2.0"/><ellipse cx="167.57" cy="576.91" rx="3.0" ry="2.0"/><ellipse cx="171.88" cy="608.06" rx="3.0" ry="2.0"/><ellipse cx="194.86" cy="473.10" rx="3.0" ry="2.0"/><ellipse cx="199.17" cy="608.06" rx="3.0" ry="2.0"/><ellipse cx="202.04" cy="618.44" rx="3.0" ry="2.0"/><ellipse cx="214.96" cy="545.77" rx="3.0" ry="2.0"/><ellipse cx="216.40" cy="628.82" rx="3.0" ry="2.0"/><ellipse cx="222.15" cy="597.68" rx="3.0" ry="2.0"/><ellipse cx="225.02" cy="618.44" rx="3.0" ry="2.0"/><ellipse cx="226.45" cy="628.82" rx="3.0" ry="2.0"/><ellipse cx="230.76" cy="608.06" rx="3.0" ry="2.0"/><ellipse cx="233.64" cy="618.44" rx="3.0" ry="2.0"/><ellipse cx="236.51" cy="618.44" rx="3.0" ry="2.0"/><ellipse cx="237.94" cy="628.82" rx="3.0" ry="2.0"/><ellipse cx="240.82" cy="618.44" rx="3.0" ry="2.0"/><ellipse cx="248.00" cy="587.29" rx="3.0" ry="2.0"/><ellipse cx="262.36" cy="535.39" rx="3.0" ry="2.0"/><ellipse cx="263.80" cy="628.82" rx="3.0" ry="2.0"/><ellipse cx="273.85" cy="566.53" rx="3.0" ry="2.0"/><ellipse cx="275.28" cy="628.82" rx="3.0" ry="2.0"/><ellipse cx="276.72" cy="628.82" rx="3.0" ry="2.0"/><ellipse cx="282.47" cy="597.68" rx="3.0" ry="2.0"/><ellipse cx="285.34" cy="618.44" rx="3.0" ry="2.0"/><ellipse cx="286.77" cy="628.82" rx="3.0" ry="2.0"/><ellipse cx="288.21" cy="628.82" rx="3.0" ry="2.0"/><ellipse cx="296.83" cy="576.91" rx="3.0" ry="2.0"/><ellipse cx="302.57" cy="597.68" rx="3.0" ry="2.0"/><ellipse cx="305.45" cy="618.44" rx="3.0" ry="2.0"/><ellipse cx="306.88" cy="628.82" rx="3.0" ry="2.0"/><ellipse cx="308.32" cy="628.82" rx="3.0" ry="2.0"/></g><path d="M23.60 639.00v-3.1M23.60 473.10v3.1M95.53 639.00v-3.1M95.53 473.10v3.1M167.45 639.00v-3.1M167.45 473.10v3.1M239.38 639.00v-3.1M239.38 473.10v3.1M311.30 639.00v-3.1M311.30 473.10v3.1M23.60 639.00h3.1M311.30 639.00h-3.1M23.60 618.26h3.1M311.30 618.26h-3.1M23.60 597.52h3.1M311.30 597.52h-3.1M23.60 576.79h3.1M311.30 576.79h-3.1M23.60 556.05h3.1M311.30 556.05h-3.1M23.60 535.31h3.1M311.30 535.31h-3.1M23.60 514.58h3.1M311.30 514.58h-3.1M23.60 493.84h3.1M311.30 493.84h-3.1M23.60 473.10h3.1M311.30 473.10h-3.1" stroke="#222" stroke-width="0.8" fill="none"/><g font-family="Liberation Sans, Arial, sans-serif" font-size="6.6" fill="#1a1a1a"><text transform="translate(23.13 648.90) scale(0.9 1)" text-anchor="middle">0</text><text transform="translate(94.59 648.90) scale(0.9 1)" text-anchor="middle">50</text><text transform="translate(166.04 648.90) scale(0.9 1)" text-anchor="middle">100</text><text transform="translate(237.97 648.90) scale(0.9 1)" text-anchor="middle">150</text><text transform="translate(309.89 648.90) scale(0.9 1)" text-anchor="middle">200</text><text transform="translate(18.90 641.85) scale(0.9 1)" text-anchor="end">0</text><text transform="translate(18.90 621.11) scale(0.9 1)" text-anchor="end">2</text><text transform="translate(18.90 600.38) scale(0.9 1)" text-anchor="end">4</text><text transform="translate(18.90 579.64) scale(0.9 1)" text-anchor="end">6</text><text transform="translate(18.90 558.90) scale(0.9 1)" text-anchor="end">8</text><text transform="translate(17.20 538.16) scale(0.9 1)" text-anchor="end">10</text><text transform="translate(17.20 517.43) scale(0.9 1)" text-anchor="end">12</text><text transform="translate(17.20 496.69) scale(0.9 1)" text-anchor="end">14</text><text transform="translate(17.20 475.95) scale(0.9 1)" text-anchor="end">16</text><text x="163.25" y="658.20" text-anchor="middle" font-size="7.25">Time(s)</text><text transform="translate(5.40 555.65) rotate(-90)" text-anchor="middle" font-size="7.2">Event-Triggered Interval(s)</text></g><g font-family="Liberation Serif, Times New Roman, serif" font-size="15.5" fill="#1a1a1a"><text x="47.30" y="684.80" textLength="22.3" lengthAdjust="spacingAndGlyphs">(e):</text><text x="78.10" y="684.80" textLength="212.7" lengthAdjust="spacingAndGlyphs">Triggering instants of agent 5.</text></g></g>
<g><rect x="393.90" y="473.10" width="287.20" height="165.90" fill="none" stroke="#747474" stroke-width="1.25"/><path d="M396.72 639.00V615.92M398.16 639.00V627.79M399.59 639.00V627.79M406.78 639.00V580.33M408.21 639.00V627.79M415.39 639.00V580.33M416.83 639.00V627.79M419.70 639.00V615.92M431.19 639.00V544.74M432.63 639.00V627.79M451.30 639.00V485.41M454.17 639.00V615.92M455.61 639.00V627.79M461.35 639.00V592.19M462.79 639.00V627.79M464.22 639.00V627.79M471.40 639.00V580.33M474.28 639.00V615.92M475.71 639.00V627.79M477.15 639.00V627.79M480.02 639.00V615.92M481.46 639.00V627.79M491.51 639.00V556.60M504.44 639.00V532.87M510.18 639.00V592.19M513.05 639.00V615.92M517.36 639.00V604.06M518.80 639.00V627.79M525.98 639.00V580.33M527.42 639.00V627.79M531.73 639.00V604.06M536.03 639.00V604.06M537.47 639.00V627.79M538.91 639.00V627.79M543.21 639.00V604.06M544.65 639.00V627.79M546.09 639.00V627.79M547.52 639.00V627.79M557.58 639.00V556.60M559.01 639.00V627.79M566.19 639.00V580.33M570.50 639.00V604.06M576.25 639.00V592.19M584.86 639.00V568.46M592.05 639.00V580.33M602.10 639.00V556.60M603.54 639.00V627.79M604.97 639.00V627.79M613.59 639.00V568.46M617.90 639.00V604.06M619.33 639.00V627.79M629.39 639.00V556.60M632.26 639.00V615.92M635.13 639.00V615.92M636.57 639.00V627.79M638.00 639.00V627.79M639.44 639.00V627.79M649.49 639.00V556.60M655.24 639.00V592.19M662.42 639.00V580.33M663.86 639.00V627.79M665.29 639.00V627.79M675.35 639.00V556.60M681.09 639.00V592.19" stroke="#f00" stroke-width="1.6" fill="none"/><g stroke="#f00" stroke-width="1.55" fill="none"><ellipse cx="396.72" cy="615.47" rx="3.0" ry="2.0"/><ellipse cx="398.16" cy="627.34" rx="3.0" ry="2.0"/><ellipse cx="399.59" cy="627.34" rx="3.0" ry="2.0"/><ellipse cx="406.78" cy="579.88" rx="3.0" ry="2.0"/><ellipse cx="408.21" cy="627.34" rx="3.0" ry="2.0"/><ellipse cx="415.39" cy="579.88" rx="3.0" ry="2.0"/><ellipse cx="416.83" cy="627.34" rx="3.0" ry="2.0"/><ellipse cx="419.70" cy="615.47" rx="3.0" ry="2.0"/><ellipse cx="431.19" cy="544.29" rx="3.0" ry="2.0"/><ellipse cx="432.63" cy="627.34" rx="3.0" ry="2.0"/><ellipse cx="451.30" cy="484.96" rx="3.0" ry="2.0"/><ellipse cx="454.17" cy="615.47" rx="3.0" ry="2.0"/><ellipse cx="455.61" cy="627.34" rx="3.0" ry="2.0"/><ellipse cx="461.35" cy="591.74" rx="3.0" ry="2.0"/><ellipse cx="462.79" cy="627.34" rx="3.0" ry="2.0"/><ellipse cx="464.22" cy="627.34" rx="3.0" ry="2.0"/><ellipse cx="471.40" cy="579.88" rx="3.0" ry="2.0"/><ellipse cx="474.28" cy="615.47" rx="3.0" ry="2.0"/><ellipse cx="475.71" cy="627.34" rx="3.0" ry="2.0"/><ellipse cx="477.15" cy="627.34" rx="3.0" ry="2.0"/><ellipse cx="480.02" cy="615.47" rx="3.0" ry="2.0"/><ellipse cx="481.46" cy="627.34" rx="3.0" ry="2.0"/><ellipse cx="491.51" cy="556.15" rx="3.0" ry="2.0"/><ellipse cx="504.44" cy="532.42" rx="3.0" ry="2.0"/><ellipse cx="510.18" cy="591.74" rx="3.0" ry="2.0"/><ellipse cx="513.05" cy="615.47" rx="3.0" ry="2.0"/><ellipse cx="517.36" cy="603.61" rx="3.0" ry="2.0"/><ellipse cx="518.80" cy="627.34" rx="3.0" ry="2.0"/><ellipse cx="525.98" cy="579.88" rx="3.0" ry="2.0"/><ellipse cx="527.42" cy="627.34" rx="3.0" ry="2.0"/><ellipse cx="531.73" cy="603.61" rx="3.0" ry="2.0"/><ellipse cx="536.03" cy="603.61" rx="3.0" ry="2.0"/><ellipse cx="537.47" cy="627.34" rx="3.0" ry="2.0"/><ellipse cx="538.91" cy="627.34" rx="3.0" ry="2.0"/><ellipse cx="543.21" cy="603.61" rx="3.0" ry="2.0"/><ellipse cx="544.65" cy="627.34" rx="3.0" ry="2.0"/><ellipse cx="546.09" cy="627.34" rx="3.0" ry="2.0"/><ellipse cx="547.52" cy="627.34" rx="3.0" ry="2.0"/><ellipse cx="557.58" cy="556.15" rx="3.0" ry="2.0"/><ellipse cx="559.01" cy="627.34" rx="3.0" ry="2.0"/><ellipse cx="566.19" cy="579.88" rx="3.0" ry="2.0"/><ellipse cx="570.50" cy="603.61" rx="3.0" ry="2.0"/><ellipse cx="576.25" cy="591.74" rx="3.0" ry="2.0"/><ellipse cx="584.86" cy="568.01" rx="3.0" ry="2.0"/><ellipse cx="592.05" cy="579.88" rx="3.0" ry="2.0"/><ellipse cx="602.10" cy="556.15" rx="3.0" ry="2.0"/><ellipse cx="603.54" cy="627.34" rx="3.0" ry="2.0"/><ellipse cx="604.97" cy="627.34" rx="3.0" ry="2.0"/><ellipse cx="613.59" cy="568.01" rx="3.0" ry="2.0"/><ellipse cx="617.90" cy="603.61" rx="3.0" ry="2.0"/><ellipse cx="619.33" cy="627.34" rx="3.0" ry="2.0"/><ellipse cx="629.39" cy="556.15" rx="3.0" ry="2.0"/><ellipse cx="632.26" cy="615.47" rx="3.0" ry="2.0"/><ellipse cx="635.13" cy="615.47" rx="3.0" ry="2.0"/><ellipse cx="636.57" cy="627.34" rx="3.0" ry="2.0"/><ellipse cx="638.00" cy="627.34" rx="3.0" ry="2.0"/><ellipse cx="639.44" cy="627.34" rx="3.0" ry="2.0"/><ellipse cx="649.49" cy="556.15" rx="3.0" ry="2.0"/><ellipse cx="655.24" cy="591.74" rx="3.0" ry="2.0"/><ellipse cx="662.42" cy="579.88" rx="3.0" ry="2.0"/><ellipse cx="663.86" cy="627.34" rx="3.0" ry="2.0"/><ellipse cx="665.29" cy="627.34" rx="3.0" ry="2.0"/><ellipse cx="675.35" cy="556.15" rx="3.0" ry="2.0"/><ellipse cx="681.09" cy="591.74" rx="3.0" ry="2.0"/></g><path d="M393.90 639.00v-3.1M393.90 473.10v3.1M465.70 639.00v-3.1M465.70 473.10v3.1M537.50 639.00v-3.1M537.50 473.10v3.1M609.30 639.00v-3.1M609.30 473.10v3.1M681.10 639.00v-3.1M681.10 473.10v3.1M393.90 639.00h3.1M681.10 639.00h-3.1M393.90 615.30h3.1M681.10 615.30h-3.1M393.90 591.60h3.1M681.10 591.60h-3.1M393.90 567.90h3.1M681.10 567.90h-3.1M393.90 544.20h3.1M681.10 544.20h-3.1M393.90 520.50h3.1M681.10 520.50h-3.1M393.90 496.80h3.1M681.10 496.80h-3.1M393.90 473.10h3.1M681.10 473.10h-3.1" stroke="#222" stroke-width="0.8" fill="none"/><g font-family="Liberation Sans, Arial, sans-serif" font-size="6.6" fill="#1a1a1a"><text transform="translate(393.43 648.90) scale(0.9 1)" text-anchor="middle">0</text><text transform="translate(464.59 648.90) scale(0.9 1)" text-anchor="middle">50</text><text transform="translate(535.74 648.90) scale(0.9 1)" text-anchor="middle">100</text><text transform="translate(607.37 648.90) scale(0.9 1)" text-anchor="middle">150</text><text transform="translate(678.99 648.90) scale(0.9 1)" text-anchor="middle">200</text><text transform="translate(388.60 641.85) scale(0.9 1)" text-anchor="end">0</text><text transform="translate(388.60 618.15) scale(0.9 1)" text-anchor="end">2</text><text transform="translate(388.60 594.45) scale(0.9 1)" text-anchor="end">4</text><text transform="translate(388.60 570.75) scale(0.9 1)" text-anchor="end">6</text><text transform="translate(388.60 547.05) scale(0.9 1)" text-anchor="end">8</text><text transform="translate(386.90 523.35) scale(0.9 1)" text-anchor="end">10</text><text transform="translate(386.90 499.65) scale(0.9 1)" text-anchor="end">12</text><text transform="translate(386.90 475.95) scale(0.9 1)" text-anchor="end">14</text><text x="533.30" y="658.20" text-anchor="middle" font-size="7.25">Time(s)</text><text transform="translate(375.10 555.65) rotate(-90)" text-anchor="middle" font-size="7.2">Event-Triggered Interval(s)</text></g><g font-family="Liberation Serif, Times New Roman, serif" font-size="15.5" fill="#1a1a1a"><text x="406.10" y="684.80" textLength="20.1" lengthAdjust="spacingAndGlyphs">(f):</text><text x="435.00" y="684.80" textLength="214.2" lengthAdjust="spacingAndGlyphs">Triggering instants of agent 6.</text></g></g>
</svg>
</body></html>
